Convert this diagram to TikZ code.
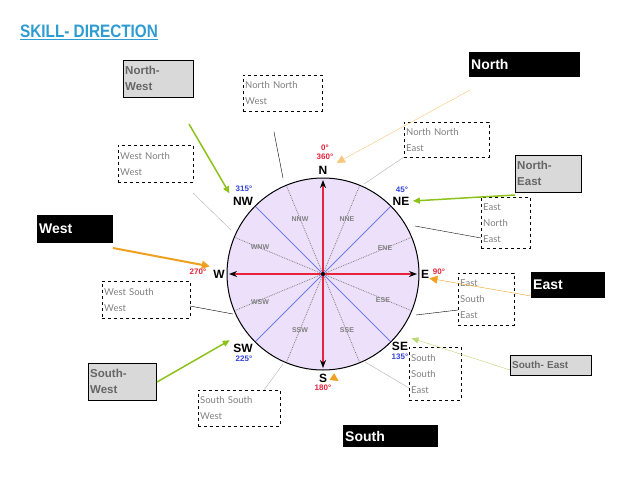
\documentclass[tikz,border=0pt]{standalone}
\usepackage{fontspec}
\setmainfont{Liberation Sans}
\newfontfamily\lato{Lato}
\usetikzlibrary{arrows.meta}
\definecolor{ttl}{HTML}{2E9CD0}
\definecolor{lav}{HTML}{EDE0FA}
\definecolor{grn}{HTML}{8CC21A}
\definecolor{org}{HTML}{F0A020}
\definecolor{rd}{HTML}{E8223C}
\definecolor{bl}{HTML}{3344DD}
\tikzset{
 dbox/.style={draw,dashed,thin,align=left,anchor=north west,font=\lato\fontsize{9.5}{16}\selectfont,text=gray,inner xsep=2pt,inner ysep=2pt},
 gbox/.style={draw,fill=gray!30,anchor=north west,align=left,font=\bfseries\fontsize{11.5}{16}\selectfont,text=gray!80!black,inner xsep=2pt,inner ysep=2pt},
 kbox/.style={fill=black,anchor=north west,align=left,font=\bfseries\fontsize{14}{15}\selectfont,text=white,inner xsep=2pt},
 gar/.style={grn,line width=1.5pt,-{Triangle[length=7pt,width=6pt]}},
 oar/.style={org,line width=2pt,-{Triangle[length=8pt,width=8pt]}},
 lead/.style={thin},
 glead/.style={gray!60,thin},
 ang/.style={font=\bfseries\fontsize{8}{8}\selectfont},
 cmp/.style={font=\bfseries\fontsize{12}{12}\selectfont},
 sub/.style={font=\bfseries\fontsize{7}{7}\selectfont,text=gray}
}
\begin{document}
\begin{tikzpicture}[x=1pt,y=-1pt]
\useasboundingbox (0,0) rectangle (638,479);
\node[anchor=west,text=ttl,font=\bfseries\fontsize{18}{18}\selectfont,xscale=0.85,inner sep=0pt] (t) at (20,32) {\underline{SKILL- DIRECTION}};
% compass
\coordinate (c) at (323,274);
\fill[lav] (c) circle[radius=96];
\foreach \a in {22.5,67.5,...,337.5} \draw[gray,densely dotted,thick] (c) -- ++(\a:-96);
\foreach \a in {45,135} {\draw[bl!70,thick] (c) ++(\a:96) -- ++(\a:-192);}
\draw[line width=1pt] (c) circle[radius=96];
\draw[rd,line width=1.5pt,{Stealth[black,length=8pt]}-{Stealth[black,length=8pt]}] (323,180) -- (323,368);
\draw[rd,line width=1.5pt,{Stealth[black,length=8pt]}-{Stealth[black,length=8pt]}] (229,274) -- (417,274);
\fill (c) circle[radius=2];
\node[sub] (nne) at (347,219) {NNE};
\node[sub] (ene) at (385,248) {ENE};
\node[sub] (ese) at (383,300) {ESE};
\node[sub] (sse) at (347,330) {SSE};
\node[sub] (ssw) at (300,330) {SSW};
\node[sub] (wsw) at (260,302) {WSW};
\node[sub] (wnw) at (260,247) {WNW};
\node[sub] (nnw) at (300,219) {NNW};
\node[cmp] (N) at (323,170) {N};
\node[cmp] (S) at (323,378) {S};
\node[cmp] (E) at (425,274) {E};
\node[cmp] (W) at (219,274) {W};
\node[cmp] (NE) at (401,201) {NE};
\node[cmp] (NW) at (243,201) {NW};
\node[cmp] (SE) at (400,346) {SE};
\node[cmp] (SW) at (243,348) {SW};
\node[ang,text=rd,align=center,font=\bfseries\fontsize{8}{9}\selectfont] (a0) at (325,152) {0°\\360°};
\node[ang,text=rd] (a180) at (323,388) {180°};
\node[ang,text=rd] (a90) at (439,272) {90°};
\node[ang,text=rd] (a270) at (198,272) {270°};
\node[ang,text=bl] (a45) at (402,190) {45°};
\node[ang,text=bl] (a315) at (244,189) {315°};
\node[ang,text=bl] (a135) at (400,357) {135°};
\node[ang,text=bl] (a225) at (244,359) {225°};
% boxes
\node[gbox,text width=66pt,minimum height=37pt] (bnw) at (123,60) {North-\\West};
\node[dbox,text width=75pt,minimum height=36pt] (bnnw) at (243,75) {North North\\West};
\node[dbox,text width=71pt,minimum height=37pt] (bwnw) at (118,145) {West North\\West};
\node[kbox,text width=72pt,minimum height=28pt] (bw) at (37,215) {West};
\node[dbox,text width=84pt,minimum height=37pt] (bwsw) at (102,281) {West South\\West};
\node[gbox,text width=64pt,minimum height=37pt] (bsw) at (88,363) {South-\\West};
\node[dbox,text width=78pt,minimum height=36pt] (bssw) at (198,390) {South South\\West};
\node[kbox,text width=91pt,minimum height=22pt] (bs) at (343,425) {South};
\node[dbox,text width=48pt,minimum height=53pt] (bsse) at (409,347) {South\\South\\East};
\node[gbox,text width=77pt,minimum height=20pt,font=\bfseries\fontsize{10}{10}\selectfont] (bse) at (510,355) {South- East};
\node[kbox,text width=70pt,minimum height=26pt] (be) at (531,272) {East};
\node[dbox,text width=52pt,minimum height=52pt] (bese) at (458,273) {East\\South\\East};
\node[dbox,text width=45pt,minimum height=51pt] (bene) at (481,197) {East\\North\\East};
\node[gbox,text width=62pt,minimum height=37pt] (bne) at (515,155) {North-\\East};
\node[dbox,text width=81pt,minimum height=35pt] (bnne) at (404,122) {North North\\East};
\node[kbox,text width=107pt,minimum height=25pt] (bn) at (469,52) {North};
% arrows
\coordinate (g1) at (189,124); \draw[gar] (g1) -- (NW.north west);
\coordinate (g2) at (157,382); \draw[gar] (g2) -- (SW.north west);
\coordinate (g3) at (515,195); \draw[gar] (g3) -- (NE.east);
\coordinate (o1) at (113,248); \draw[oar] (o1) -- (W.north west);
\coordinate (o2) at (531,296); \draw[org,thin,-{Triangle[length=8pt,width=8pt]}] (o2) -- (a90.south west);
\coordinate (o3) at (470,90); \draw[org!60,thin,-{Triangle[length=8pt,width=8pt]}] (o3) -- (a0.south east);
\coordinate (o4) at (510,370); \draw[grn!60,thin,-{Triangle[length=7pt,width=6pt]}] (o4) -- (SE.north east);
\draw[org,-{Triangle[length=8pt,width=8pt]}] (S.east) ++(2,-1) -- ++(6,4);
% leaders
\coordinate (l1) at (274,132); \coordinate (m1) at (283,178); \draw[lead] (l1) -- (m1);
\coordinate (l2) at (404,157); \coordinate (m2) at (364,184); \draw[glead] (l2) -- (m2);
\coordinate (l3) at (481,238); \coordinate (m3) at (415,226); \draw[lead] (l3) -- (m3);
\coordinate (l4) at (458,310); \coordinate (m4) at (416,315); \draw[lead] (l4) -- (m4);
\coordinate (l5) at (409,388); \coordinate (m5) at (365,362); \draw[glead] (l5) -- (m5);
\coordinate (l6) at (264,390); \coordinate (m6) at (283,364); \draw[glead] (l6) -- (m6);
\coordinate (l7) at (190,306); \coordinate (m7) at (233,314); \draw[lead] (l7) -- (m7);
\coordinate (l8) at (193,193); \coordinate (m8) at (231,230); \draw[glead] (l8) -- (m8);
\end{tikzpicture}
\end{document}
